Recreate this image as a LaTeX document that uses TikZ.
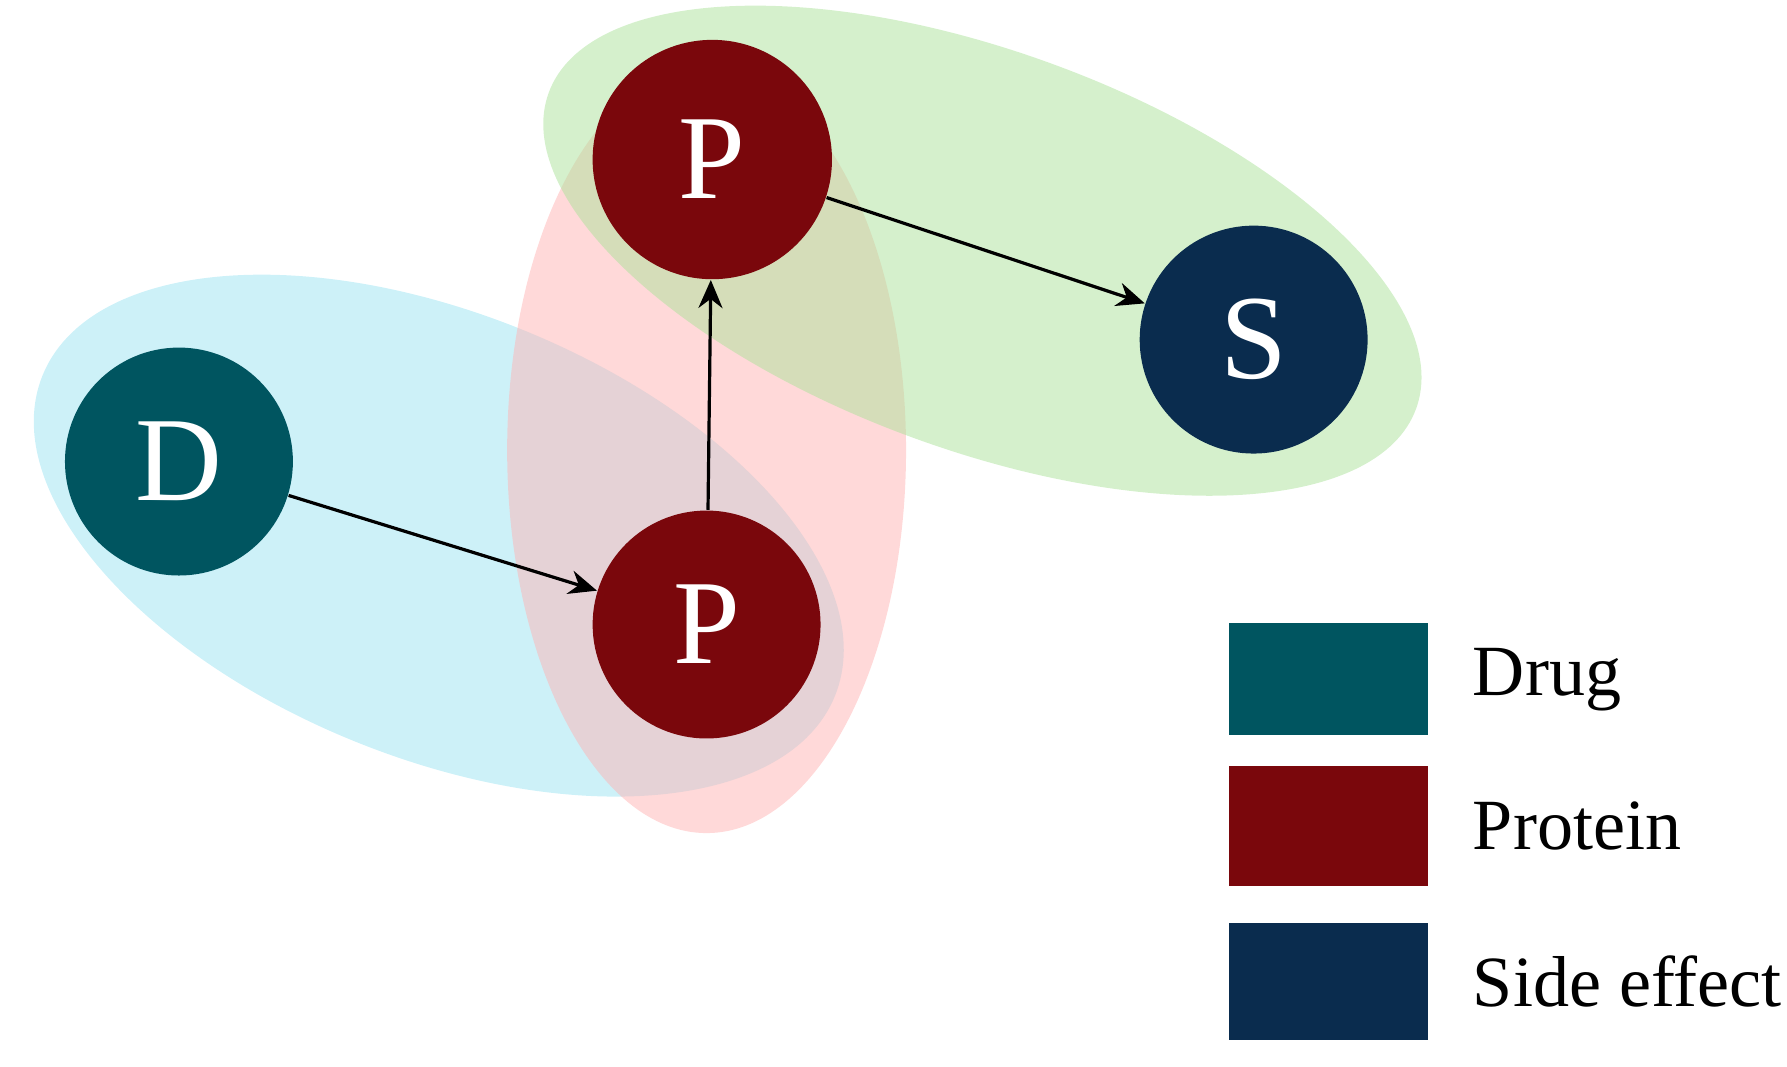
\documentclass[tikz,border=0pt]{standalone}
\usepackage{fontspec}
\setmainfont{Liberation Serif}
\usetikzlibrary{arrows.meta}
\definecolor{drugc}{HTML}{005560}
\definecolor{protc}{HTML}{7A070C}
\definecolor{sidec}{HTML}{0A2C4E}
\definecolor{bluegrp}{HTML}{9BE3F2}
\definecolor{pinkgrp}{HTML}{FFB3B3}
\definecolor{greengrp}{HTML}{ABE29A}
\tikzset{
  entity/.style={circle, minimum size=2cm, inner sep=0pt, text=white,
    font=\fontsize{30}{30}\selectfont},
  group/.style={fill opacity=0.5},
  link/.style={-{Stealth[length=7pt,width=6pt]}, black, line width=0.8pt},
  key/.style={minimum width=1.75cm, inner sep=0pt},
  keytext/.style={anchor=west, font=\fontsize{18}{18}\selectfont}
}
\begin{document}
\begin{tikzpicture}
  \useasboundingbox (0,0) rectangle (15.68,9.36);

  % -------- groups --------
  \fill[group, bluegrp] (3.85,4.66) ellipse[x radius=3.75cm, y radius=1.95cm, rotate=-22];
  \fill[group, pinkgrp] (6.2,5.41) ellipse[x radius=1.75cm, y radius=3.36cm];
  \fill[group, greengrp] (8.62,7.16) ellipse[x radius=4.05cm, y radius=1.75cm, rotate=-20];

  % -------- nodes --------
  \node[entity, fill=drugc] (drug) at (1.57,5.31) {D};
  \node[entity, fill=protc] (protA) at (6.2,3.88) {P};
  \node[entity, fill=protc, minimum size=2.1cm] (protB) at (6.25,7.96) {P};
  \node[entity, fill=sidec] (side) at (11.0,6.38) {S};

  \draw[link] (drug) -- (protA);
  \draw[link] (protA) -- (protB);
  \draw[link] (protB) -- (side);

  % -------- legend --------
  \node[key, fill=drugc, minimum height=0.98cm] (kdrug) at (11.655,3.4) {};
  \node[key, fill=protc, minimum height=1.05cm] (kprot) at (11.655,2.11) {};
  \node[key, fill=sidec, minimum height=1.03cm] (kside) at (11.655,0.75) {};
  \node[keytext] at (12.8,3.4) {Drug};
  \node[keytext] at (12.8,2.11) {Protein};
  \node[keytext] at (12.8,0.75) {Side effect};
\end{tikzpicture}
\end{document}
